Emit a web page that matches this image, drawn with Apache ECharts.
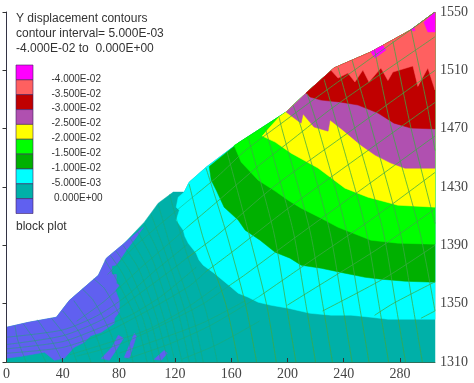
<!DOCTYPE html>
<html><head><meta charset="utf-8">
<script src="https://cdn.jsdelivr.net/npm/echarts@6/dist/echarts.min.js"></script>
<style>html,body{margin:0;padding:0;background:#fff}#c{width:474px;height:383px}</style>
</head><body><div id="c"></div>
<script>
const titleLines = ['Y displacement contours','contour interval= 5.000E-03','-4.000E-02 to  0.000E+00'];
const legendLabels = ['-4.000E-02','-3.500E-02','-3.000E-02','-2.500E-02','-2.000E-02','-1.500E-02','-1.000E-02','-5.000E-03',' 0.000E+00'];
const legendColors = ['#ff00ff','#ff6060','#c00000','#b050b0','#ffff00','#00ff00','#00b000','#00ffff','#00b0a8','#6060f0'];
const surface = [[0,1333.8],[15.6,1337.2],[35.5,1340.7],[44.8,1352.3],[65.4,1369.5],[71.1,1381.2],[83.9,1391.5],[98.1,1405.9],[108,1418.9],[118.7,1426.5],[126.5,1426.5],[130,1433.3],[142.1,1443.6],[164.9,1460.1],[179.1,1469],[199,1481.4],[213.2,1494.4],[233.1,1511.6],[259.4,1522.6],[287.8,1537.7],[305,1550]];
const blueEdge = [[97.4,1402.4],[92.4,1395.6],[85.3,1386.7],[78.2,1376.4],[75,1376],[75,1370],[78.2,1370],[78.2,1364],[80.3,1362.6],[77.5,1359.2],[80.3,1352.3],[80.3,1344],[76.8,1340],[76.8,1336.6],[67.5,1330.4],[60,1328],[55.4,1323.5],[48,1320],[41.2,1312.5],[34.1,1311.2],[27,1316.7],[10.7,1313.9],[0,1312.6]];
const blueA = [[67.5,1312.5],[75,1320],[79.6,1328.4],[83.2,1326.3],[78,1318],[73.2,1311.2]];
const blueB = [[83.9,1313.2],[91,1329.7],[92.4,1327.6],[87.4,1312.5]];
const blueC = [[105.2,1311.9],[112.3,1318],[114.4,1316],[110.2,1311.2]];
const cyanEdge = [[126.5,1426.5],[122.2,1423],[120.8,1416.2],[123,1414],[120.8,1407.3],[125.8,1400.4],[127,1396],[129.4,1391.4],[135,1384.6],[137,1380],[140,1376.4],[147.8,1370.9],[159.9,1361.3],[164.9,1357.2],[172,1354.4],[179.1,1351],[188.3,1348.9],[200.4,1346.9],[216.1,1343.4],[231,1342.1],[245.2,1342.1],[259.4,1340.7],[271.5,1339.3],[305,1339.3]];
const darkGreenEdge = [[144.3,1444],[145.7,1434.7],[149.3,1427.8],[154.9,1416.2],[164.9,1407.3],[169.9,1400.4],[180.5,1393.5],[191.2,1385.3],[201.8,1381.2],[209.7,1376.4],[223.9,1374.3],[240.9,1370.9],[255.2,1368.1],[266.5,1366.8],[283.6,1365.4],[305,1364.7]];
const greenEdge = [[162,1458.5],[167,1447.1],[179.1,1434.7],[191.2,1427.2],[200.4,1421],[209.7,1415.5],[223.9,1408.6],[236,1402.4],[259.4,1393.5],[278.6,1391.5],[305,1390.8]];
const yellowEdge = [[194,1478],[186.9,1470.4],[182,1464.9],[191.2,1460.8],[202.6,1453.2],[221.7,1443],[240.9,1429.2],[257.3,1423],[278.6,1417.5],[305,1416.2]];
const purpleEdge = [[199,1481.4],[204.7,1477.3],[209.7,1473.8],[211.1,1480],[218.9,1471.1],[228.9,1468.3],[230.3,1475.9],[239.5,1469],[252.3,1458.7],[262.3,1451.9],[273.6,1446.4],[283.6,1442.9],[305,1442.9]];
const redEdge = [[213.2,1494.4],[216.1,1491.7],[223.9,1489.6],[238.1,1488.2],[250.2,1486.2],[264.4,1480.7],[275.8,1473.8],[287.8,1470.4],[305,1469.8]];
const salmonEdge = [[231,1510],[236,1504.7],[243,1508.1],[248,1502],[253.7,1510.2],[258,1502],[266.5,1511.6],[271.5,1503],[275,1508.8],[289.3,1513],[292.8,1499],[299.9,1511.6],[305,1496.5]];
const magentaTop = [[297.1,1543],[299.9,1536.3],[305,1536.3],[305,1550]];
const magentaMid = [[259.4,1522.6],[262.3,1518.5],[270.1,1523.9],[267.9,1527]];
const magentaDot = [[287.8,1537.7],[290.7,1537],[290,1539.5]];
const meshRise = [
 [[305,1550],[288,1538],[259,1518],[233,1500],[213,1486],[199,1476],[170,1455],[150,1437],[135,1425]],
 [[305,1533],[233,1485],[204,1463],[180,1445],[150,1420],[128,1402]],
 [[305,1510],[240,1465],[190,1430],[150,1397],[128,1381]],
 [[305,1488],[250,1450],[200,1415],[160,1385],[142,1372]],
 [[305,1465],[255,1430],[205,1395],[170,1370],[158,1362]],
 [[305,1440],[260,1408],[210,1375],[180,1355]],
 [[305,1415],[265,1388],[215,1358],[200,1349]],
 [[305,1390],[270,1368],[225,1345]],
 [[305,1365],[275,1350],[262,1342]],
 [[305,1345],[295,1340]]
];
const meshFan = [
 [[288,1538],[300,1483],[305,1455]],
 [[275,1530],[288,1470],[305,1405]],
 [[305,1345],[294,1400],[274,1470],[262,1524]],
 [[296,1310],[289,1350],[280,1400],[260,1470],[246,1517]],
 [[284,1310],[277,1350],[268,1400],[248,1470],[236,1512]],
 [[272,1310],[265,1350],[256,1400],[236,1470],[226,1504]],
 [[258,1310],[251,1350],[242,1400],[222,1470],[214,1494]],
 [[246,1310],[239,1350],[230,1400],[210,1470],[204,1486]],
 [[232,1310],[225,1350],[216,1400],[196,1470],[194,1478]],
 [[220,1310],[213,1350],[204,1400],[184,1471]],
 [[206,1310],[199,1350],[190,1400],[172,1464]],
 [[192,1310],[185,1350],[172,1400],[157,1454]],
 [[178,1310],[170,1350],[156,1400],[142,1443]],
 [[165,1310],[156,1350],[140,1395],[130,1432]]
];
const meshLeft = [
 [[150,1310],[142,1345],[128,1385],[116,1425]],
 [[140,1310],[132,1345],[118,1385],[108,1418]],
 [[135,1310],[127,1345],[113,1385],[103,1411]],
 [[130,1310],[122,1345],[108,1385],[98,1405]],
 [[125,1310],[117,1342],[104,1380],[93,1400]],
 [[120,1310],[112,1340],[100,1375],[88,1395]],
 [[115,1310],[107,1340],[94,1374],[83,1390]],
 [[110,1310],[102,1340],[88,1372],[78,1386]],
 [[105,1310],[97,1340],[83,1370],[74,1383]],
 [[100,1310],[92,1340],[78,1367],[70,1380]],
 [[90,1310],[84,1335],[70,1360],[62,1367]],
 [[80,1310],[74,1330],[62,1352],[54,1360]],
 [[70,1310],[62,1332],[48,1352]],
 [[60,1310],[52,1330],[40,1345]],
 [[50,1310],[44,1325],[32,1340]],
 [[40,1310],[32,1325],[22,1339]],
 [[28,1310],[20,1325],[12,1336]],
 [[14,1310],[8,1325],[6,1335]],
 [[135,1425],[110,1405],[90,1388],[72,1370]],
 [[128,1402],[120,1395],[96,1375],[70,1352],[50,1338]],
 [[128,1390],[105,1372],[85,1355],[65,1342],[40,1332],[0,1327]],
 [[128,1381],[120,1375],[92,1355],[70,1340],[40,1328],[0,1322]],
 [[135,1375],[110,1355],[88,1342],[68,1334],[40,1324],[0,1319]],
 [[142,1372],[130,1362],[100,1345],[70,1330],[40,1320],[0,1316]],
 [[150,1362],[125,1345],[100,1332],[72,1323],[45,1315]],
 [[158,1362],[140,1350],[110,1335],[80,1322],[50,1314]],
 [[170,1352],[140,1337],[110,1326],[80,1316]],
 [[180,1355],[145,1335],[115,1322],[85,1312]],
 [[180,1338],[150,1322],[125,1312]]
];
const xTicks = {min:0,max:305,interval:40};
const yTicks = {min:1310,max:1550,interval:40};

const above = e => e.concat(surface.filter(p => p[0] > e[0][0]).reverse());
const tealPoly = surface.concat([[305,1310],[0,1310]]);
const bluePoly = surface.filter(p => p[0] < blueEdge[0][0]).concat(blueEdge);
const layers = [
 [tealPoly,'#00b0a8'],[bluePoly,'#6060f0'],[blueA,'#6060f0'],[blueB,'#6060f0'],[blueC,'#6060f0'],
 [above(cyanEdge),'#00ffff'],[above(darkGreenEdge),'#00b000'],[above(greenEdge),'#00ff00'],
 [above(yellowEdge),'#ffff00'],[above(purpleEdge),'#b050b0'],[above(redEdge),'#c00000'],
 [above(salmonEdge),'#ff6060'],[magentaTop,'#ff00ff'],[magentaMid,'#ff00ff'],[magentaDot,'#ff00ff']
];
const series = layers.map(([poly,color],i) => ({
  type:'custom', coordinateSystem:'cartesian2d', data:poly, silent:true, z:2+i, clip:true,
  encode:{x:0,y:1},
  renderItem:(params,api)=> params.dataIndexInside!==0 ? null : ({type:'polygon',
     shape:{points:poly.map(p=>api.coord(p))},style:{fill:color,stroke:color,lineWidth:0.5}})
}));
meshRise.concat(meshFan).forEach(l => series.push({type:'line',data:l,symbol:'none',smooth:0.25,silent:true,z:40,
   lineStyle:{color:'rgba(60,170,70,0.75)',width:1}}));
meshLeft.forEach(l => series.push({type:'line',data:l,symbol:'none',smooth:0.25,silent:true,z:40,
   lineStyle:{color:'rgba(30,170,110,0.5)',width:1}}));

const sans='"Liberation Sans",Arial,sans-serif';
const graphic=[];
titleLines.forEach((t,i)=>graphic.push({type:'text',left:16,top:13+i*14.7,style:{text:t,font:'12px '+sans,fill:'#333'}}));
legendColors.forEach((c,i)=>graphic.push({type:'rect',shape:{x:16,y:65+i*14.85,width:17,height:14.85},style:{fill:c,stroke:'#402060',lineWidth:0.6}}));
legendLabels.forEach((t,i)=>graphic.push({type:'text',left:t[0]===' '?54:51.5,top:74+i*14.85,style:{text:t.trim(),font:'10px '+sans,fill:'#333'}}));
graphic.push({type:'text',left:16,top:221,style:{text:'block plot',font:'12px '+sans,fill:'#333'}});

const chart=echarts.init(document.getElementById('c'),null,{renderer:'canvas'});
chart.setOption({animation:false,backgroundColor:'#fff',
 grid:{left:5,right:39,top:12,bottom:21,containLabel:false},
 xAxis:{type:'value',...xTicks,z:50,axisLine:{show:true,onZero:false,lineStyle:{color:'#2f6f5a'}},
   axisTick:{show:true,inside:true,length:4,lineStyle:{color:'#333'}},splitLine:{show:false},
   axisLabel:{show:true,margin:5,color:'#444',fontFamily:'"Liberation Serif",serif',fontSize:14,showMaxLabel:false}},
 yAxis:{type:'value',position:'right',...yTicks,z:50,axisLine:{show:true,lineStyle:{color:'#334'}},
   axisTick:{show:true,inside:true,length:4,lineStyle:{color:'#333'}},splitLine:{show:false},
   axisLabel:{show:true,margin:5,color:'#444',fontFamily:'"Liberation Serif",serif',fontSize:14,formatter:v=>String(v)}},
 graphic,series});
</script></body></html>
